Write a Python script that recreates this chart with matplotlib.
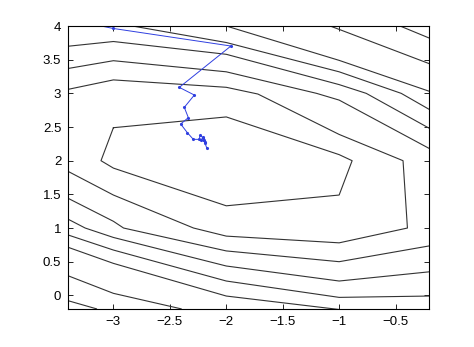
import numpy as np
import matplotlib
matplotlib.use("Agg")
import matplotlib.pyplot as plt
from matplotlib.ticker import FuncFormatter

plt.rcParams['font.family'] = ['Liberation Sans', 'DejaVu Sans']

# contour lines (x, y vertices)
inner_x = [-3.0, -2.0, -1.0, -0.885, -1.0, -2.0, -3.0, -3.11, -3.0]
inner_y = [2.49, 2.65, 2.09, 2.0, 1.49, 1.33, 1.89, 2.0, 2.49]

ring2_x = [-3.4, -3.0, -2.0, -1.72, -1.0, -0.434, -0.395, -1.0, -2.0, -2.29, -3.0, -3.4]
ring2_y = [3.06, 3.20, 3.09, 2.99, 2.39, 2.0, 1.0, 0.78, 0.88, 1.0, 1.49, 1.84]

top_d_x = [-3.4, -3.0, -2.0, -1.2, -1.0, -0.2]
top_d_y = [3.37, 3.485, 3.32, 3.0, 2.9, 2.18]

top_c_x = [-3.4, -3.0, -2.0, -1.0, -0.76, -0.2]
top_c_y = [3.70, 3.77, 3.58, 3.13, 3.0, 2.48]

top_b_x = [-2.83, -2.0, -1.0, -0.45, -0.2]
top_b_y = [4.0, 3.755, 3.32, 3.0, 2.76]

top_a_x = [-2.0, -1.0, -0.2]
top_a_y = [4.0, 3.49, 3.03]

corner1_x = [-1.08, -1.0, -0.2]
corner1_y = [4.0, 3.95, 3.44]

corner2_x = [-0.46, -0.2]
corner2_y = [4.0, 3.82]

bot1_x = [-3.4, -3.0, -2.91, -2.0, -1.0, -0.2]
bot1_y = [1.44, 1.10, 1.0, 0.66, 0.50, 0.735]

bot2_x = [-3.4, -3.25, -3.0, -2.0, -1.0, -0.2]
bot2_y = [1.13, 1.0, 0.86, 0.436, 0.213, 0.35]

bot3_x = [-3.4, -3.0, -2.0, -1.0, -0.2]
bot3_y = [0.896, 0.673, 0.213, -0.03, -0.01]

bot4_x = [-3.4, -3.0, -2.0, -1.0]
bot4_y = [0.713, 0.475, -0.01, -0.21]

bot5_x = [-3.4, -3.0, -2.4]
bot5_y = [0.29, 0.03, -0.2]

bot6_x = [-3.4, -3.15]
bot6_y = [-0.08, -0.2]

contours = [(inner_x, inner_y), (ring2_x, ring2_y), (top_d_x, top_d_y),
            (top_c_x, top_c_y), (top_b_x, top_b_y), (top_a_x, top_a_y),
            (corner1_x, corner1_y), (corner2_x, corner2_y),
            (bot1_x, bot1_y), (bot2_x, bot2_y), (bot3_x, bot3_y),
            (bot4_x, bot4_y), (bot5_x, bot5_y), (bot6_x, bot6_y)]

# sampler / optimiser path
path_x = [-3.25, -3.006, -1.959, -2.416, -2.283, -2.372, -2.336, -2.404, -2.345,
          -2.292, -2.239, -2.233, -2.209, -2.221, -2.192, -2.204, -2.186, -2.198, -2.174]
path_y = [4.05, 3.965, 3.703, 3.089, 2.975, 2.792, 2.639, 2.545, 2.416,
          2.317, 2.317, 2.376, 2.347, 2.307, 2.282, 2.332, 2.257, 2.307, 2.193]

fig = plt.figure(figsize=(4.74, 3.47), dpi=100)
ax = fig.add_axes([0.144, 0.11, 0.762, 0.815])

for cx, cy in contours:
    ax.plot(cx, cy, color="#333333", lw=0.8)

ax.plot(path_x, path_y, ".-", color="#2f3fe0", lw=0.7, ms=2.5)

ax.set_xlim(-3.4, -0.2)
ax.set_ylim(-0.2, 4.0)
ax.set_xticks(np.arange(-3, -0.4, 0.5))
ax.set_yticks(np.arange(0, 4.01, 0.5))
fmt = FuncFormatter(lambda v, p: ("%g" % v).replace("-", "\u2212"))
ax.xaxis.set_major_formatter(fmt)
ax.yaxis.set_major_formatter(fmt)
ax.tick_params(direction="in", top=True, right=True, labelsize=9.5,
               length=3.5, width=0.6, pad=5)
for s in ax.spines.values():
    s.set_linewidth(0.8)

plt.savefig("out.png", dpi=100)
plt.close()
